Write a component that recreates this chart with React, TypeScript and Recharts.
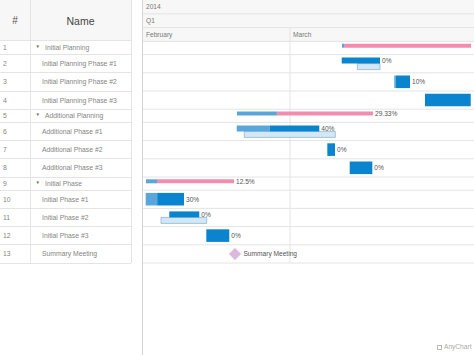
import React from 'react';
import { ComposedChart, XAxis, YAxis, ReferenceArea, ReferenceLine, Scatter } from 'recharts';

// ---- data ----
const rowNames = [
  'Initial Planning',
  'Initial Planning Phase #1',
  'Initial Planning Phase #2',
  'Initial Planning Phase #3',
  'Additional Planning',
  'Additional Phase #1',
  'Additional Phase #2',
  'Additional Phase #3',
  'Initial Phase',
  'Initial Phase #1',
  'Initial Phase #2',
  'Initial Phase #3',
  'Summary Meeting',
];
const rowKinds = ['parent', 'child', 'child', 'child', 'parent', 'child', 'child', 'child', 'parent', 'child', 'child', 'child', 'milestone'];
// days counted from Feb 1, 2014
const actualStart = [36.67, 36.62, 45.38, 50.5, 19.17, 19.12, 34.22, 37.95, 4.0, 3.95, 7.88, 14.05, 18.83];
const actualEnd = [58.17, 43.0, 48.0, 58.12, 41.83, 32.88, 35.5, 41.72, 18.67, 10.33, 12.88, 17.88, 18.83];
const progressPct = [1.58, 0, 10, 0, 29.33, 40, 0, 0, 12.5, 30, 0, 0, 0];
const baselineStart: (number | null)[] = [null, 39.22, null, null, null, 20.38, null, null, null, null, 6.5, null, null];
const baselineEnd: (number | null)[] = [null, 43.0, null, null, null, 35.55, null, null, null, null, 14.12, null, null];
const yearLabels = ['2014'];
const quarterLabels = ['Q1'];
const monthLabels = ['February', 'March'];
const monthStart = [0, 28];
const monthEnd = [28, 59];

// ---- layout / style ----
const W = 474;
const H = 355;
const GRID_W = 131;
const TL_LEFT = 143;
const TL_W = W - TL_LEFT;
const PX_PER_DAY = 6;
const X_MIN = 3.5;
const X_MAX = X_MIN + TL_W / PX_PER_DAY;
const LABEL_ROOM = 1.5; // days needed to show a percent label inside the view
const HDR_ROW = 13.8;
const HEADER_H = HDR_ROW * 3;
const PARENT_H = 13.2;
const CHILD_H = 18.2;
const rowHeights = rowKinds.map((k) => (k === 'parent' ? PARENT_H : CHILD_H));
const rowTops: number[] = [];
rowHeights.reduce((acc, h, i) => {
  rowTops[i] = acc;
  return acc + h;
}, 0);
const BODY_H = rowHeights.reduce((a, b) => a + b, 0);
const CHART_H = Math.round(HEADER_H + BODY_H + 1);

const LINE = '#e4e4e4';
const HDR_BG = '#f7f7f7';
const TEXT = '#858585';
const ACTUAL = '#0b84cf';
const PROGRESS = '#5aa5d9';
const PINK = '#f28db0';
const BASE_FILL = '#d3e8f6';
const BASE_STROKE = '#86aecd';
const MS_FILL = '#dcb7de';
const MS_STROKE = '#ecd3ed';
const FONT = '"Liberation Sans", Arial, sans-serif';

const milestoneData = rowKinds
  .map((k, i) => ({ k, i }))
  .filter((r) => r.k === 'milestone')
  .map(({ i }) => ({ x: actualStart[i], y: rowTops[i] + rowHeights[i] / 2, name: rowNames[i] }));

const Diamond = (props: any) => {
  const { cx, cy, payload } = props;
  const r = 6;
  return (
    <g>
      <polygon
        points={`${cx},${cy - r} ${cx + r},${cy} ${cx},${cy + r} ${cx - r},${cy}`}
        fill={MS_FILL}
        stroke={MS_STROKE}
        strokeWidth={1}
      />
      <text x={cx + r + 2.5} y={cy} dominantBaseline="central" fontSize={6.6} fill="#555">
        {payload.name}
      </text>
    </g>
  );
};

const labelStyle = (value: string, end: number) =>
  end + LABEL_ROOM > X_MAX ? undefined : { value, position: 'right' as const, offset: 2, fontSize: 6.6, fill: '#555' };

function taskAreas() {
  const out: React.ReactNode[] = [];
  rowKinds.forEach((kind, i) => {
    if (kind === 'milestone') return;
    const top = rowTops[i];
    const s = actualStart[i];
    const e = actualEnd[i];
    const p = progressPct[i] / 100;
    const mid = s + (e - s) * p;
    const label = `${progressPct[i]}%`;
    if (kind === 'parent') {
      const y1 = top + 2.3;
      const y2 = top + 6.3;
      if (p > 0)
        out.push(<ReferenceArea key={`pp${i}`} x1={s} x2={mid} y1={y1} y2={y2} fill={PROGRESS} fillOpacity={1} ifOverflow="hidden" zIndex={300} />);
      out.push(
        <ReferenceArea key={`pr${i}`} x1={mid} x2={e} y1={y1} y2={y2} fill={PINK} fillOpacity={1} ifOverflow="hidden" zIndex={300} label={labelStyle(label, e)} />
      );
    } else {
      const hasBase = baselineStart[i] != null;
      const y1 = top + (hasBase ? 3 : 2.7);
      const y2 = top + (hasBase ? 9 : 15.3);
      if (hasBase) {
        out.push(
          <ReferenceArea
            key={`b${i}`}
            x1={baselineStart[i] as number}
            x2={baselineEnd[i] as number}
            y1={top + 9}
            y2={top + 15}
            fill={BASE_FILL}
            fillOpacity={1}
            stroke={BASE_STROKE}
            strokeWidth={0.7}
            ifOverflow="hidden"
            zIndex={300}
          />
        );
      }
      if (p > 0)
        out.push(<ReferenceArea key={`cp${i}`} x1={s} x2={mid} y1={y1} y2={y2} fill={PROGRESS} fillOpacity={1} ifOverflow="hidden" zIndex={300} />);
      out.push(
        <ReferenceArea key={`ca${i}`} x1={mid} x2={e} y1={y1} y2={y2} fill={ACTUAL} fillOpacity={1} ifOverflow="hidden" zIndex={300} label={labelStyle(label, e)} />
      );
    }
  });
  return out;
}

const hdrLabel = (value: string) => ({ value, position: 'insideLeft' as const, offset: 3, fontSize: 6.6, fill: '#777' });

export default function App() {
  return (
    <div
      style={{
        position: 'absolute',
        left: 0,
        top: 0,
        width: W,
        height: H,
        overflow: 'hidden',
        background: '#fff',
        fontFamily: FONT,
      }}
    >
      {/* data grid */}
      <div style={{ position: 'absolute', left: 0, top: 0, width: GRID_W, height: HEADER_H, background: HDR_BG, borderBottom: `1px solid ${LINE}`, boxSizing: 'border-box' }} />
      <div style={{ position: 'absolute', left: 0, top: 0, width: 30, height: HEADER_H, display: 'flex', alignItems: 'center', justifyContent: 'center', fontSize: 10, color: '#555' }}>#</div>
      <div style={{ position: 'absolute', left: 30, top: 0, width: GRID_W - 30, height: HEADER_H, display: 'flex', alignItems: 'center', justifyContent: 'center', fontSize: 10.5, color: '#444' }}>Name</div>
      {rowNames.map((name, i) => {
        const top = HEADER_H + rowTops[i];
        const h = rowHeights[i];
        const isParent = rowKinds[i] === 'parent';
        return (
          <React.Fragment key={i}>
            <div style={{ position: 'absolute', left: 0, top: top + h - 0.5, width: GRID_W, height: 1, background: LINE }} />
            <div style={{ position: 'absolute', left: 3, top, height: h, display: 'flex', alignItems: 'center', fontSize: 6.8, color: TEXT }}>{i + 1}</div>
            {isParent && (
              <div style={{ position: 'absolute', left: 35.5, top: top - 1, height: h, display: 'flex', alignItems: 'center', fontSize: 4.5, color: '#666' }}>▼</div>
            )}
            <div style={{ position: 'absolute', left: isParent ? 45 : 42, top, height: h, display: 'flex', alignItems: 'center', fontSize: 6.8, color: TEXT, whiteSpace: 'nowrap' }}>{name}</div>
          </React.Fragment>
        );
      })}
      <div style={{ position: 'absolute', left: 30, top: 0, width: 1, height: HEADER_H + BODY_H, background: LINE }} />
      <div style={{ position: 'absolute', left: GRID_W, top: 0, width: 1, height: HEADER_H + BODY_H, background: LINE }} />
      {/* splitter */}
      <div style={{ position: 'absolute', left: 141.5, top: 0, width: 1.5, height: H, background: '#d4d4d4' }} />

      {/* timeline */}
      <div style={{ position: 'absolute', left: TL_LEFT, top: 0 }}>
        <ComposedChart width={TL_W} height={CHART_H} margin={{ top: 0, right: 0, bottom: 0, left: 0 }}>
          <XAxis type="number" dataKey="x" domain={[X_MIN, X_MAX]} allowDataOverflow hide />
          <YAxis type="number" dataKey="y" domain={[-HEADER_H, CHART_H - HEADER_H]} allowDataOverflow reversed hide />
          {/* header backgrounds */}
          <ReferenceArea x1={X_MIN} x2={X_MAX} y1={-HEADER_H} y2={0} fill={HDR_BG} fillOpacity={1} zIndex={50} />
          {yearLabels.map((t) => (
            <ReferenceArea key={t} x1={X_MIN} x2={X_MAX} y1={-HEADER_H} y2={-HDR_ROW * 2} fillOpacity={0} zIndex={60} label={hdrLabel(t)} />
          ))}
          {quarterLabels.map((t) => (
            <ReferenceArea key={t} x1={X_MIN} x2={X_MAX} y1={-HDR_ROW * 2} y2={-HDR_ROW} fillOpacity={0} zIndex={60} label={hdrLabel(t)} />
          ))}
          {monthLabels.map((t, i) => (
            <ReferenceArea
              key={t}
              x1={Math.max(monthStart[i], X_MIN)}
              x2={Math.min(monthEnd[i], X_MAX)}
              y1={-HDR_ROW}
              y2={0}
              fillOpacity={0}
              zIndex={60}
              label={hdrLabel(t)}
            />
          ))}
          {/* grid lines */}
          {[-HDR_ROW * 2, -HDR_ROW, 0].map((y) => (
            <ReferenceLine key={`h${y}`} y={y} stroke={LINE} zIndex={70} />
          ))}
          {rowTops.map((t, i) => (
            <ReferenceLine key={`r${i}`} y={t + rowHeights[i]} stroke={LINE} zIndex={70} />
          ))}
          {monthStart
            .filter((m) => m > X_MIN)
            .map((m) => (
              <ReferenceLine
                key={`m${m}`}
                segment={[
                  { x: m, y: -HDR_ROW },
                  { x: m, y: BODY_H },
                ]}
                stroke={LINE}
                zIndex={70}
              />
            ))}
          {taskAreas()}
          <Scatter data={milestoneData} dataKey="y" shape={Diamond} isAnimationActive={false} />
        </ComposedChart>
      </div>

      {/* credits */}
      <div style={{ position: 'absolute', left: 437, top: 345, width: 5, height: 5, border: '1px solid #bbb', boxSizing: 'border-box' }} />
      <div style={{ position: 'absolute', left: 444, top: 343, fontSize: 6.6, color: '#aaa' }}>AnyChart</div>
    </div>
  );
}
